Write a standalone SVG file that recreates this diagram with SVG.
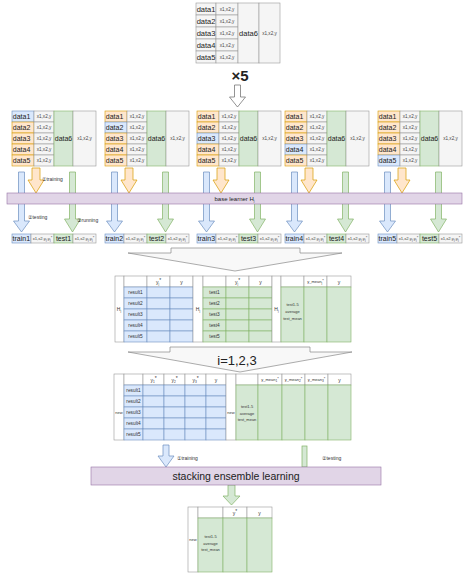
<svg xmlns="http://www.w3.org/2000/svg" width="474" height="579" viewBox="0 0 474 579">
<style>
.t{font-family:"Liberation Sans","DejaVu Sans",sans-serif;fill:#222}
.c{text-anchor:middle}
.d{font-size:7px}
.x{font-size:4.6px;fill:#444}
.xs{font-size:4.2px;fill:#444}
.h{font-size:5px;fill:#333}
.m{font-size:4.8px;fill:#333}
.n{font-size:4px;fill:#333}
.lb{font-size:5px;fill:#333}
.cd{font-family:"DejaVu Sans",sans-serif}
.sb{font-size:3.2px}
.gy{fill:#f5f5f5;stroke:#999;stroke-width:0.6}
.or{fill:#ffe6cc;stroke:#d79b00;stroke-width:0.6}
.bl{fill:#dae8fc;stroke:#6c8ebf;stroke-width:0.6}
.gn{fill:#d5e8d4;stroke:#82b366;stroke-width:0.6}
.wt{fill:#fff;stroke:#999;stroke-width:0.6}
.pu{fill:#e1d5e7;stroke:#9673a6;stroke-width:0.6}
.ab{fill:#dae8fc;stroke:#6c8ebf;stroke-width:0.7}
.ao{fill:#ffe6cc;stroke:#d79b00;stroke-width:0.7}
.ag{fill:#d5e8d4;stroke:#82b366;stroke-width:0.7}
.aw{fill:#fff;stroke:#666;stroke-width:0.7}
.fa{fill:#f8f8f8;stroke:#888;stroke-width:0.7}
</style>
<rect width="474" height="579" fill="#fff"/>

<g id="dataset">
<rect class="gy" x="196" y="3" width="20" height="12"/>
<rect class="gy" x="196" y="15" width="20" height="12"/>
<rect class="gy" x="196" y="27" width="20" height="12"/>
<rect class="gy" x="196" y="39" width="20" height="12"/>
<rect class="gy" x="196" y="51" width="20" height="12"/>
<rect class="gy" x="216" y="3" width="22" height="12"/>
<rect class="gy" x="216" y="15" width="22" height="12"/>
<rect class="gy" x="216" y="27" width="22" height="12"/>
<rect class="gy" x="216" y="39" width="22" height="12"/>
<rect class="gy" x="216" y="51" width="22" height="12"/>
<rect class="gy" x="238" y="3" width="21" height="60"/>
<rect class="gy" x="259" y="3" width="21" height="60"/>
<text class="t" font-size="7.5" x="196.7" y="11.7">data1</text>
<text class="t" font-size="7.5" x="196.7" y="23.7">data2</text>
<text class="t" font-size="7.5" x="196.7" y="35.7">data3</text>
<text class="t" font-size="7.5" x="196.7" y="47.7">data4</text>
<text class="t" font-size="7.5" x="196.7" y="59.7">data5</text>
<text class="t x c" x="227" y="10.6">x1,x2,y</text>
<text class="t x c" x="227" y="22.6">x1,x2,y</text>
<text class="t x c" x="227" y="34.6">x1,x2,y</text>
<text class="t x c" x="227" y="46.6">x1,x2,y</text>
<text class="t x c" x="227" y="58.6">x1,x2,y</text>
<text class="t c" font-size="7.5" x="248.5" y="35.7">data6</text>
<text class="t x c" x="269.5" y="34.6">x1,x2,y</text>
</g>
<g id="times5"><text class="t c" font-size="15" font-weight="bold" x="240" y="81">×5</text></g>

<g id="connectors">
<path class="aw" d="M234.5,85 H240.5 V97 H245.5 L237.5,107 L229.5,97 H234.5 Z"/>
<path class="ab" d="M18.5,172 H24.5 V221 H29.5 L21.5,232 L13.5,221 H18.5 Z"/>
<path class="ao" d="M32,168 H40 V180 H44 L36,193 L28,180 H32 Z"/>
<path class="ag" d="M69.5,172 H75.5 V219 H80.5 L72.5,232 L64.5,219 H69.5 Z"/>
<path class="ab" d="M111.5,172 H117.5 V221 H122.5 L114.5,232 L106.5,221 H111.5 Z"/>
<path class="ao" d="M125,168 H133 V180 H137 L129,193 L121,180 H125 Z"/>
<path class="ag" d="M162.5,172 H168.5 V219 H173.5 L165.5,232 L157.5,219 H162.5 Z"/>
<path class="ab" d="M203.5,172 H209.5 V221 H214.5 L206.5,232 L198.5,221 H203.5 Z"/>
<path class="ao" d="M217,168 H225 V180 H229 L221,193 L213,180 H217 Z"/>
<path class="ag" d="M254.5,172 H260.5 V219 H265.5 L257.5,232 L249.5,219 H254.5 Z"/>
<path class="ab" d="M291.5,172 H297.5 V221 H302.5 L294.5,232 L286.5,221 H291.5 Z"/>
<path class="ao" d="M305,168 H313 V180 H317 L309,193 L301,180 H305 Z"/>
<path class="ag" d="M342.5,172 H348.5 V219 H353.5 L345.5,232 L337.5,219 H342.5 Z"/>
<path class="ab" d="M384.5,172 H390.5 V221 H395.5 L387.5,232 L379.5,221 H384.5 Z"/>
<path class="ao" d="M398,168 H406 V180 H410 L402,193 L394,180 H398 Z"/>
<path class="ag" d="M435.5,172 H441.5 V219 H446.5 L438.5,232 L430.5,219 H435.5 Z"/>
<path class="fa" d="M171,248 H300 V253 H342 L235,271 L128,253 H171 Z"/>
<path class="fa" d="M170,347 H310 V352 H352 L240,372 L128,352 H170 Z"/>
<path class="ab" d="M163,445 H169 V456 H174 L166,467 L158,456 H163 Z"/>
<rect class="ag" x="302" y="446" width="5" height="21"/>
<path class="ag" d="M228,485 H235 V496 H240 L231.5,505 L223,496 H228 Z"/>
<text class="t lb" x="42" y="181"><tspan class="cd">①</tspan>training</text>
<text class="t lb" x="28" y="219"><tspan class="cd">②</tspan>testing</text>
<text class="t lb" x="77" y="222"><tspan class="cd">③</tspan>running</text>
<text class="t lb" x="177" y="460"><tspan class="cd">①</tspan>training</text>
<text class="t lb" x="322" y="460"><tspan class="cd">②</tspan>testing</text>
<text class="t c" font-size="13" x="237" y="365">i=1,2,3</text>
</g>

<g id="fold1">
<rect class="bl" x="12" y="111" width="22" height="11"/>
<rect class="or" x="12" y="122" width="22" height="11"/>
<rect class="or" x="12" y="133" width="22" height="11"/>
<rect class="or" x="12" y="144" width="22" height="11"/>
<rect class="or" x="12" y="155" width="22" height="11"/>
<rect class="gy" x="34" y="111" width="20" height="11"/>
<rect class="gy" x="34" y="122" width="20" height="11"/>
<rect class="gy" x="34" y="133" width="20" height="11"/>
<rect class="gy" x="34" y="144" width="20" height="11"/>
<rect class="gy" x="34" y="155" width="20" height="11"/>
<rect class="gn" x="54" y="111" width="19" height="55"/>
<rect class="gy" x="73" y="111" width="23" height="55"/>
<text class="t d" x="12.8" y="119">data1</text>
<text class="t d" x="12.8" y="130">data2</text>
<text class="t d" x="12.8" y="141">data3</text>
<text class="t d" x="12.8" y="152">data4</text>
<text class="t d" x="12.8" y="163">data5</text>
<text class="t x c" x="44" y="118.2">x1,x2,y</text>
<text class="t x c" x="44" y="129.2">x1,x2,y</text>
<text class="t x c" x="44" y="140.2">x1,x2,y</text>
<text class="t x c" x="44" y="151.2">x1,x2,y</text>
<text class="t x c" x="44" y="162.2">x1,x2,y</text>
<text class="t d c" x="63.5" y="141">data6</text>
<text class="t x c" x="84.5" y="140.2">x1,x2,y</text>
</g>
<g id="fold2">
<rect class="or" x="105" y="111" width="22" height="11"/>
<rect class="bl" x="105" y="122" width="22" height="11"/>
<rect class="or" x="105" y="133" width="22" height="11"/>
<rect class="or" x="105" y="144" width="22" height="11"/>
<rect class="or" x="105" y="155" width="22" height="11"/>
<rect class="gy" x="127" y="111" width="20" height="11"/>
<rect class="gy" x="127" y="122" width="20" height="11"/>
<rect class="gy" x="127" y="133" width="20" height="11"/>
<rect class="gy" x="127" y="144" width="20" height="11"/>
<rect class="gy" x="127" y="155" width="20" height="11"/>
<rect class="gn" x="147" y="111" width="19" height="55"/>
<rect class="gy" x="166" y="111" width="23" height="55"/>
<text class="t d" x="105.8" y="119">data1</text>
<text class="t d" x="105.8" y="130">data2</text>
<text class="t d" x="105.8" y="141">data3</text>
<text class="t d" x="105.8" y="152">data4</text>
<text class="t d" x="105.8" y="163">data5</text>
<text class="t x c" x="137" y="118.2">x1,x2,y</text>
<text class="t x c" x="137" y="129.2">x1,x2,y</text>
<text class="t x c" x="137" y="140.2">x1,x2,y</text>
<text class="t x c" x="137" y="151.2">x1,x2,y</text>
<text class="t x c" x="137" y="162.2">x1,x2,y</text>
<text class="t d c" x="156.5" y="141">data6</text>
<text class="t x c" x="177.5" y="140.2">x1,x2,y</text>
</g>
<g id="fold3">
<rect class="or" x="197" y="111" width="22" height="11"/>
<rect class="or" x="197" y="122" width="22" height="11"/>
<rect class="bl" x="197" y="133" width="22" height="11"/>
<rect class="or" x="197" y="144" width="22" height="11"/>
<rect class="or" x="197" y="155" width="22" height="11"/>
<rect class="gy" x="219" y="111" width="20" height="11"/>
<rect class="gy" x="219" y="122" width="20" height="11"/>
<rect class="gy" x="219" y="133" width="20" height="11"/>
<rect class="gy" x="219" y="144" width="20" height="11"/>
<rect class="gy" x="219" y="155" width="20" height="11"/>
<rect class="gn" x="239" y="111" width="19" height="55"/>
<rect class="gy" x="258" y="111" width="23" height="55"/>
<text class="t d" x="197.8" y="119">data1</text>
<text class="t d" x="197.8" y="130">data2</text>
<text class="t d" x="197.8" y="141">data3</text>
<text class="t d" x="197.8" y="152">data4</text>
<text class="t d" x="197.8" y="163">data5</text>
<text class="t x c" x="229" y="118.2">x1,x2,y</text>
<text class="t x c" x="229" y="129.2">x1,x2,y</text>
<text class="t x c" x="229" y="140.2">x1,x2,y</text>
<text class="t x c" x="229" y="151.2">x1,x2,y</text>
<text class="t x c" x="229" y="162.2">x1,x2,y</text>
<text class="t d c" x="248.5" y="141">data6</text>
<text class="t x c" x="269.5" y="140.2">x1,x2,y</text>
</g>
<g id="fold4">
<rect class="or" x="285" y="111" width="22" height="11"/>
<rect class="or" x="285" y="122" width="22" height="11"/>
<rect class="or" x="285" y="133" width="22" height="11"/>
<rect class="bl" x="285" y="144" width="22" height="11"/>
<rect class="or" x="285" y="155" width="22" height="11"/>
<rect class="gy" x="307" y="111" width="20" height="11"/>
<rect class="gy" x="307" y="122" width="20" height="11"/>
<rect class="gy" x="307" y="133" width="20" height="11"/>
<rect class="gy" x="307" y="144" width="20" height="11"/>
<rect class="gy" x="307" y="155" width="20" height="11"/>
<rect class="gn" x="327" y="111" width="19" height="55"/>
<rect class="gy" x="346" y="111" width="23" height="55"/>
<text class="t d" x="285.8" y="119">data1</text>
<text class="t d" x="285.8" y="130">data2</text>
<text class="t d" x="285.8" y="141">data3</text>
<text class="t d" x="285.8" y="152">data4</text>
<text class="t d" x="285.8" y="163">data5</text>
<text class="t x c" x="317" y="118.2">x1,x2,y</text>
<text class="t x c" x="317" y="129.2">x1,x2,y</text>
<text class="t x c" x="317" y="140.2">x1,x2,y</text>
<text class="t x c" x="317" y="151.2">x1,x2,y</text>
<text class="t x c" x="317" y="162.2">x1,x2,y</text>
<text class="t d c" x="336.5" y="141">data6</text>
<text class="t x c" x="357.5" y="140.2">x1,x2,y</text>
</g>
<g id="fold5">
<rect class="or" x="378" y="111" width="22" height="11"/>
<rect class="or" x="378" y="122" width="22" height="11"/>
<rect class="or" x="378" y="133" width="22" height="11"/>
<rect class="or" x="378" y="144" width="22" height="11"/>
<rect class="bl" x="378" y="155" width="22" height="11"/>
<rect class="gy" x="400" y="111" width="20" height="11"/>
<rect class="gy" x="400" y="122" width="20" height="11"/>
<rect class="gy" x="400" y="133" width="20" height="11"/>
<rect class="gy" x="400" y="144" width="20" height="11"/>
<rect class="gy" x="400" y="155" width="20" height="11"/>
<rect class="gn" x="420" y="111" width="19" height="55"/>
<rect class="gy" x="439" y="111" width="23" height="55"/>
<text class="t d" x="378.8" y="119">data1</text>
<text class="t d" x="378.8" y="130">data2</text>
<text class="t d" x="378.8" y="141">data3</text>
<text class="t d" x="378.8" y="152">data4</text>
<text class="t d" x="378.8" y="163">data5</text>
<text class="t x c" x="410" y="118.2">x1,x2,y</text>
<text class="t x c" x="410" y="129.2">x1,x2,y</text>
<text class="t x c" x="410" y="140.2">x1,x2,y</text>
<text class="t x c" x="410" y="151.2">x1,x2,y</text>
<text class="t x c" x="410" y="162.2">x1,x2,y</text>
<text class="t d c" x="429.5" y="141">data6</text>
<text class="t x c" x="450.5" y="140.2">x1,x2,y</text>
</g>

<g id="baselearner">
<rect class="pu" x="7" y="193" width="455" height="11"/>
<text class="t c" font-size="6" x="234.5" y="200.8">base learner H<tspan class="sb" dy="1">j</tspan></text>
</g>

<g id="out1">
<rect class="bl" x="12" y="234" width="19" height="9"/><rect class="gy" x="31" y="234" width="23" height="9"/>
<rect class="gn" x="54" y="234" width="19" height="9"/><rect class="gy" x="73" y="234" width="23" height="9"/>
<text class="t d" x="12.6" y="241">train1</text><text class="t d c" x="63.5" y="241">test1</text>
<text class="t xs c" x="42.5" y="240">x1,x2,y<tspan class="sb" dy="0.8">j</tspan><tspan dy="-0.8">,y</tspan><tspan class="sb" dy="0.8">j</tspan><tspan dy="-2">*</tspan></text>
<text class="t xs c" x="84.5" y="240">x1,x2,y<tspan class="sb" dy="0.8">j</tspan><tspan dy="-0.8">,y</tspan><tspan class="sb" dy="0.8">j</tspan><tspan dy="-2">*</tspan></text>
</g>
<g id="out2">
<rect class="bl" x="105" y="234" width="19" height="9"/><rect class="gy" x="124" y="234" width="23" height="9"/>
<rect class="gn" x="147" y="234" width="19" height="9"/><rect class="gy" x="166" y="234" width="23" height="9"/>
<text class="t d" x="105.6" y="241">train2</text><text class="t d c" x="156.5" y="241">test2</text>
<text class="t xs c" x="135.5" y="240">x1,x2,y<tspan class="sb" dy="0.8">j</tspan><tspan dy="-0.8">,y</tspan><tspan class="sb" dy="0.8">j</tspan><tspan dy="-2">*</tspan></text>
<text class="t xs c" x="177.5" y="240">x1,x2,y<tspan class="sb" dy="0.8">j</tspan><tspan dy="-0.8">,y</tspan><tspan class="sb" dy="0.8">j</tspan><tspan dy="-2">*</tspan></text>
</g>
<g id="out3">
<rect class="bl" x="197" y="234" width="19" height="9"/><rect class="gy" x="216" y="234" width="23" height="9"/>
<rect class="gn" x="239" y="234" width="19" height="9"/><rect class="gy" x="258" y="234" width="23" height="9"/>
<text class="t d" x="197.6" y="241">train3</text><text class="t d c" x="248.5" y="241">test3</text>
<text class="t xs c" x="227.5" y="240">x1,x2,y<tspan class="sb" dy="0.8">j</tspan><tspan dy="-0.8">,y</tspan><tspan class="sb" dy="0.8">j</tspan><tspan dy="-2">*</tspan></text>
<text class="t xs c" x="269.5" y="240">x1,x2,y<tspan class="sb" dy="0.8">j</tspan><tspan dy="-0.8">,y</tspan><tspan class="sb" dy="0.8">j</tspan><tspan dy="-2">*</tspan></text>
</g>
<g id="out4">
<rect class="bl" x="285" y="234" width="19" height="9"/><rect class="gy" x="304" y="234" width="23" height="9"/>
<rect class="gn" x="327" y="234" width="19" height="9"/><rect class="gy" x="346" y="234" width="23" height="9"/>
<text class="t d" x="285.6" y="241">train4</text><text class="t d c" x="336.5" y="241">test4</text>
<text class="t xs c" x="315.5" y="240">x1,x2,y<tspan class="sb" dy="0.8">j</tspan><tspan dy="-0.8">,y</tspan><tspan class="sb" dy="0.8">j</tspan><tspan dy="-2">*</tspan></text>
<text class="t xs c" x="357.5" y="240">x1,x2,y<tspan class="sb" dy="0.8">j</tspan><tspan dy="-0.8">,y</tspan><tspan class="sb" dy="0.8">j</tspan><tspan dy="-2">*</tspan></text>
</g>
<g id="out5">
<rect class="bl" x="378" y="234" width="19" height="9"/><rect class="gy" x="397" y="234" width="23" height="9"/>
<rect class="gn" x="420" y="234" width="19" height="9"/><rect class="gy" x="439" y="234" width="23" height="9"/>
<text class="t d" x="378.6" y="241">train5</text><text class="t d c" x="429.5" y="241">test5</text>
<text class="t xs c" x="408.5" y="240">x1,x2,y<tspan class="sb" dy="0.8">j</tspan><tspan dy="-0.8">,y</tspan><tspan class="sb" dy="0.8">j</tspan><tspan dy="-2">*</tspan></text>
<text class="t xs c" x="450.5" y="240">x1,x2,y<tspan class="sb" dy="0.8">j</tspan><tspan dy="-0.8">,y</tspan><tspan class="sb" dy="0.8">j</tspan><tspan dy="-2">*</tspan></text>
</g>

<g id="resultTable">
<rect class="wt" x="115" y="276" width="9" height="66"/>
<rect class="wt" x="124" y="276" width="23" height="11"/><rect class="wt" x="147" y="276" width="23" height="11"/><rect class="wt" x="170" y="276" width="23" height="11"/>
<rect class="bl" x="124" y="287" width="23" height="11"/><rect class="bl" x="147" y="287" width="23" height="11"/><rect class="bl" x="170" y="287" width="23" height="11"/>
<rect class="bl" x="124" y="298" width="23" height="11"/><rect class="bl" x="147" y="298" width="23" height="11"/><rect class="bl" x="170" y="298" width="23" height="11"/>
<rect class="bl" x="124" y="309" width="23" height="11"/><rect class="bl" x="147" y="309" width="23" height="11"/><rect class="bl" x="170" y="309" width="23" height="11"/>
<rect class="bl" x="124" y="320" width="23" height="11"/><rect class="bl" x="147" y="320" width="23" height="11"/><rect class="bl" x="170" y="320" width="23" height="11"/>
<rect class="bl" x="124" y="331" width="23" height="11"/><rect class="bl" x="147" y="331" width="23" height="11"/><rect class="bl" x="170" y="331" width="23" height="11"/>
<text class="t h c" x="119" y="311">H<tspan class="sb" dy="1">j</tspan></text>
<text class="t h c" x="158.5" y="283.5">y<tspan class="sb" dy="1">j</tspan><tspan dy="-2.6">*</tspan></text>
<text class="t h c" x="181.5" y="283.5">y</text>
<text class="t m c" x="135.5" y="294.2">result1</text>
<text class="t m c" x="135.5" y="305.2">result2</text>
<text class="t m c" x="135.5" y="316.2">result3</text>
<text class="t m c" x="135.5" y="327.2">result4</text>
<text class="t m c" x="135.5" y="338.2">result5</text>
</g>
<g id="testTable">
<rect class="wt" x="193" y="276" width="10" height="66"/>
<rect class="wt" x="203" y="276" width="23" height="11"/><rect class="wt" x="226" y="276" width="23" height="11"/><rect class="wt" x="249" y="276" width="23" height="11"/>
<rect class="gn" x="203" y="287" width="23" height="11"/><rect class="gn" x="226" y="287" width="23" height="11"/><rect class="gn" x="249" y="287" width="23" height="11"/>
<rect class="gn" x="203" y="298" width="23" height="11"/><rect class="gn" x="226" y="298" width="23" height="11"/><rect class="gn" x="249" y="298" width="23" height="11"/>
<rect class="gn" x="203" y="309" width="23" height="11"/><rect class="gn" x="226" y="309" width="23" height="11"/><rect class="gn" x="249" y="309" width="23" height="11"/>
<rect class="gn" x="203" y="320" width="23" height="11"/><rect class="gn" x="226" y="320" width="23" height="11"/><rect class="gn" x="249" y="320" width="23" height="11"/>
<rect class="gn" x="203" y="331" width="23" height="11"/><rect class="gn" x="226" y="331" width="23" height="11"/><rect class="gn" x="249" y="331" width="23" height="11"/>
<text class="t h c" x="198" y="311">H<tspan class="sb" dy="1">j</tspan></text>
<text class="t h c" x="237.5" y="283.5">y<tspan class="sb" dy="1">j</tspan><tspan dy="-2.6">*</tspan></text>
<text class="t h c" x="260.5" y="283.5">y</text>
<text class="t m c" x="214.5" y="294.2">test1</text>
<text class="t m c" x="214.5" y="305.2">test2</text>
<text class="t m c" x="214.5" y="316.2">test3</text>
<text class="t m c" x="214.5" y="327.2">test4</text>
<text class="t m c" x="214.5" y="338.2">test5</text>
</g>
<g id="meanTable">
<rect class="wt" x="272" y="276" width="9" height="66"/>
<rect class="wt" x="281" y="276" width="23" height="11"/><rect class="wt" x="304" y="276" width="23" height="11"/><rect class="wt" x="327" y="276" width="24" height="11"/>
<rect class="gn" x="281" y="287" width="23" height="55"/><rect class="gn" x="304" y="287" width="23" height="55"/><rect class="gn" x="327" y="287" width="24" height="55"/>
<text class="t h c" x="276.5" y="311">H<tspan class="sb" dy="1">j</tspan></text>
<text class="t n c" x="315.5" y="283">y_mean<tspan class="sb" dy="1">j</tspan><tspan dy="-2.4">*</tspan></text>
<text class="t h c" x="339" y="283.5">y</text>
<text class="t n c" x="292.5" y="306">test1-5</text>
<text class="t n c" x="292.5" y="313">average</text>
<text class="t n c" x="292.5" y="320">test_mean</text>
</g>

<g id="newResultTable">
<rect class="wt" x="114" y="374" width="10" height="66"/>
<rect class="wt" x="124" y="374" width="19" height="11"/><rect class="wt" x="143" y="374" width="21" height="11"/><rect class="wt" x="164" y="374" width="21" height="11"/><rect class="wt" x="185" y="374" width="21" height="11"/><rect class="wt" x="206" y="374" width="20" height="11"/>
<rect class="bl" x="124" y="385" width="19" height="11"/><rect class="bl" x="143" y="385" width="21" height="11"/><rect class="bl" x="164" y="385" width="21" height="11"/><rect class="bl" x="185" y="385" width="21" height="11"/><rect class="bl" x="206" y="385" width="20" height="11"/>
<rect class="bl" x="124" y="396" width="19" height="11"/><rect class="bl" x="143" y="396" width="21" height="11"/><rect class="bl" x="164" y="396" width="21" height="11"/><rect class="bl" x="185" y="396" width="21" height="11"/><rect class="bl" x="206" y="396" width="20" height="11"/>
<rect class="bl" x="124" y="407" width="19" height="11"/><rect class="bl" x="143" y="407" width="21" height="11"/><rect class="bl" x="164" y="407" width="21" height="11"/><rect class="bl" x="185" y="407" width="21" height="11"/><rect class="bl" x="206" y="407" width="20" height="11"/>
<rect class="bl" x="124" y="418" width="19" height="11"/><rect class="bl" x="143" y="418" width="21" height="11"/><rect class="bl" x="164" y="418" width="21" height="11"/><rect class="bl" x="185" y="418" width="21" height="11"/><rect class="bl" x="206" y="418" width="20" height="11"/>
<rect class="bl" x="124" y="429" width="19" height="11"/><rect class="bl" x="143" y="429" width="21" height="11"/><rect class="bl" x="164" y="429" width="21" height="11"/><rect class="bl" x="185" y="429" width="21" height="11"/><rect class="bl" x="206" y="429" width="20" height="11"/>
<text class="t n c" x="119" y="413.5">new</text>
<text class="t h c" x="153.5" y="381.5">y<tspan class="sb" dy="1">1</tspan><tspan dy="-2.6">*</tspan></text>
<text class="t h c" x="174.5" y="381.5">y<tspan class="sb" dy="1">2</tspan><tspan dy="-2.6">*</tspan></text>
<text class="t h c" x="195.5" y="381.5">y<tspan class="sb" dy="1">3</tspan><tspan dy="-2.6">*</tspan></text>
<text class="t h c" x="216" y="381.5">y</text>
<text class="t m c" x="133.5" y="392.2">result1</text>
<text class="t m c" x="133.5" y="403.2">result2</text>
<text class="t m c" x="133.5" y="414.2">result3</text>
<text class="t m c" x="133.5" y="425.2">result4</text>
<text class="t m c" x="133.5" y="436.2">result5</text>
</g>
<g id="newMeanTable">
<rect class="wt" x="226" y="374" width="10" height="66"/>
<rect class="wt" x="236" y="374" width="22" height="11"/><rect class="wt" x="258" y="374" width="24" height="11"/><rect class="wt" x="282" y="374" width="23" height="11"/><rect class="wt" x="305" y="374" width="23" height="11"/><rect class="wt" x="328" y="374" width="23" height="11"/>
<rect class="gn" x="236" y="385" width="22" height="55"/><rect class="gn" x="258" y="385" width="24" height="55"/><rect class="gn" x="282" y="385" width="23" height="55"/><rect class="gn" x="305" y="385" width="23" height="55"/><rect class="gn" x="328" y="385" width="23" height="55"/>
<text class="t n c" x="231" y="413.5">new</text>
<text class="t n c" x="270" y="381">y_mean<tspan class="sb" dy="1">1</tspan><tspan dy="-2.4">*</tspan></text>
<text class="t n c" x="293.5" y="381">y_mean<tspan class="sb" dy="1">2</tspan><tspan dy="-2.4">*</tspan></text>
<text class="t n c" x="316.5" y="381">y_mean<tspan class="sb" dy="1">3</tspan><tspan dy="-2.4">*</tspan></text>
<text class="t h c" x="339.5" y="381.5">y</text>
<text class="t n c" x="247" y="408">test1-5</text>
<text class="t n c" x="247" y="414.5">average</text>
<text class="t n c" x="247" y="421">test_mean</text>
</g>

<g id="stacking">
<rect class="pu" x="91" y="467" width="290" height="18"/>
<text class="t c" font-size="10.5" x="236" y="480">stacking ensemble learning</text>
</g>

<g id="finalTable">
<rect class="wt" x="188" y="507" width="10" height="65"/>
<rect class="wt" x="198" y="507" width="25" height="11"/><rect class="wt" x="223" y="507" width="24" height="11"/><rect class="wt" x="247" y="507" width="25" height="11"/>
<rect class="gn" x="198" y="518" width="25" height="54"/><rect class="gn" x="223" y="518" width="24" height="54"/><rect class="gn" x="247" y="518" width="25" height="54"/>
<text class="t n c" x="193" y="541">new</text>
<text class="t h c" x="235" y="514.5">y<tspan dy="-2">*</tspan></text>
<text class="t h c" x="259.5" y="514.5">y</text>
<text class="t n c" x="210.5" y="538">test1-5</text>
<text class="t n c" x="210.5" y="544.5">average</text>
<text class="t n c" x="210.5" y="551">test_mean</text>
</g>
</svg>
